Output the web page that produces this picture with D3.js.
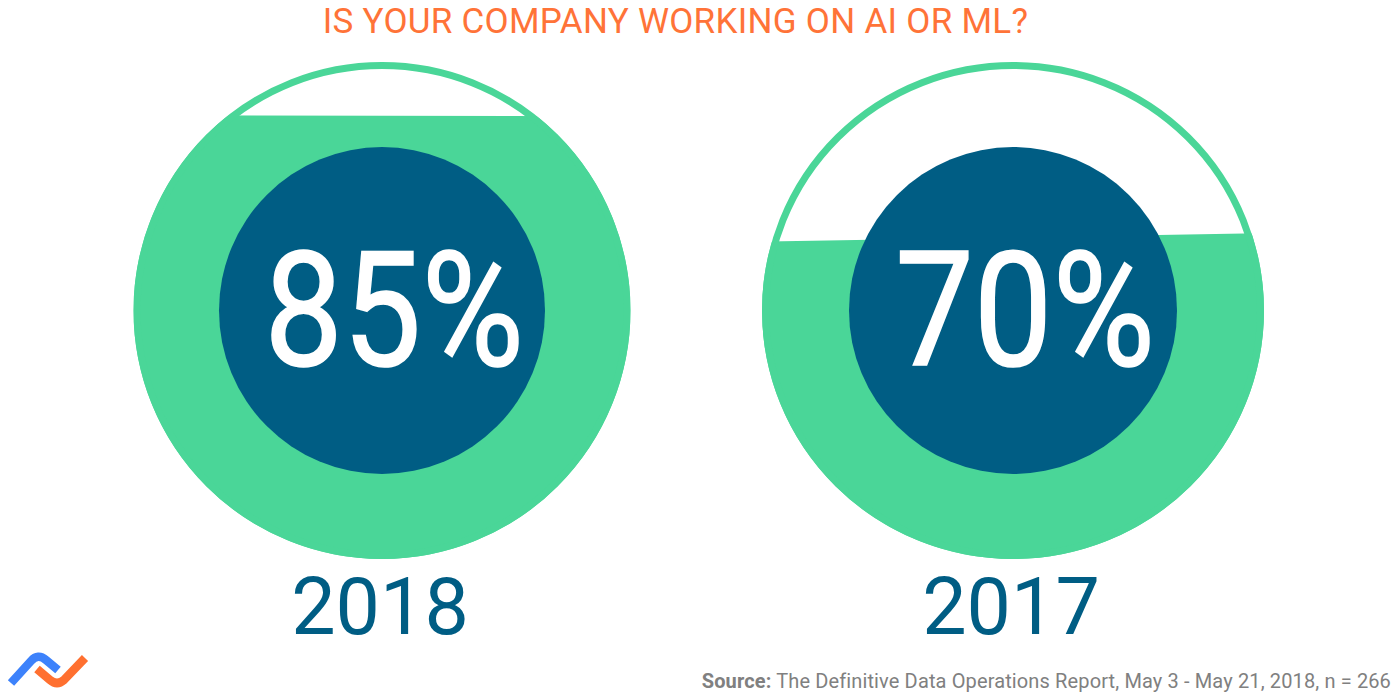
<!DOCTYPE html>
<html>
<head>
<meta charset="utf-8">
<script src="https://cdnjs.cloudflare.com/ajax/libs/d3/7.8.5/d3.min.js"></script>
<style>
  html, body { margin: 0; padding: 0; background: #fff; }
  svg { display: block; }
  text { font-family: Roboto, sans-serif; }
</style>
</head>
<body>
<script>
// chart values
var years = ["2018", "2017"];
var percents = [85, 70];
// liquid surface height at left and right edge of each gauge (0 = bottom, 1 = top)
var levelLeft = [0.893, 0.639];
var levelRight = [0.891, 0.655];

var w = 1400;
var h = 692;
var ry = 248.5;

var svg = d3.select("body")
    .append("svg")
    .attr("width", w)
    .attr("height", h);

var cx = d3.scaleOrdinal().domain(years).range([382, 1013]);
var outerRx = d3.scaleOrdinal().domain(years).range([248.5, 251]);
var innerRx = d3.scaleOrdinal().domain(years).range([163, 164]);
var y = d3.scaleLinear().domain([0, 1]).range([ry, -ry]);

var gauges = svg.selectAll("g.gauge")
    .data(years)
    .enter()
    .append("g")
    .attr("class", "gauge")
    .attr("transform", function (d) { return "translate(" + cx(d) + ",310.5)"; });

gauges.append("clipPath")
    .attr("id", function (d) { return "clip" + d; })
    .append("ellipse")
    .attr("rx", function (d) { return outerRx(d); })
    .attr("ry", ry);

// liquid, from a line at the surface down to the bottom of the circle
gauges.append("path")
    .attr("clip-path", function (d) { return "url(#clip" + d + ")"; })
    .attr("fill", "#4ad698")
    .attr("d", function (d, i) {
        var r = outerRx(d);
        var xEdge = r * 0.94;
        return d3.area()
            .x(function (p) { return p[0]; })
            .y0(ry)
            .y1(function (p) { return y(p[1]); })([
                [-r, levelLeft[i] + (levelLeft[i] - levelRight[i]) * (r - xEdge) / (2 * xEdge)],
                [r, levelRight[i] + (levelRight[i] - levelLeft[i]) * (r - xEdge) / (2 * xEdge)]
            ]);
    });

// ring
gauges.append("ellipse")
    .attr("rx", function (d) { return outerRx(d) - 3.5; })
    .attr("ry", ry - 3.5)
    .attr("fill", "none")
    .attr("stroke", "#4ad698")
    .attr("stroke-width", 7);

gauges.append("ellipse")
    .attr("rx", function (d) { return innerRx(d); })
    .attr("ry", 163.5)
    .attr("fill", "#005d84");

// the big numbers are squeezed horizontally in the original
gauges.append("text")
    .attr("text-anchor", "middle")
    .attr("transform", "translate(12,54.5) scale(0.88,1)")
    .attr("fill", "#fff")
    .attr("stroke", "#fff")
    .attr("stroke-width", 1.6)
    .style("font-size", "159px")
    .text(function (d, i) { return percents[i] + "%"; });

gauges.append("text")
    .attr("text-anchor", "middle")
    .attr("y", 323.5)
    .attr("x", -2)
    .attr("fill", "#005d84")
    .style("font-size", "79px")
    .text(function (d) { return d; });

svg.append("text")
    .attr("x", 675.5)
    .attr("y", 33)
    .attr("text-anchor", "middle")
    .attr("fill", "#ff7338")
    .style("font-size", "35px")
    .style("letter-spacing", "0.28px")
    .text("IS YOUR COMPANY WORKING ON AI OR ML?");

var source = svg.append("text")
    .attr("x", 1391)
    .attr("y", 687.5)
    .attr("text-anchor", "end")
    .attr("fill", "#808080")
    .style("font-size", "20px")
    .style("letter-spacing", "0.13px");
source.append("tspan").style("font-weight", "bold").text("Source:");
source.append("tspan").text(" The Definitive Data Operations Report, May 3 - May 21, 2018, n = 266");

// logo
svg.append("path")
    .attr("d", "M11,683 L31,661 Q38,653 46,660 L58,670")
    .attr("fill", "none")
    .attr("stroke", "#3d82fb")
    .attr("stroke-width", 8.5);

svg.append("path")
    .attr("d", "M37,669 L50,680 Q57,686 64,680 L85,658")
    .attr("fill", "none")
    .attr("stroke", "#ff7030")
    .attr("stroke-width", 8.5);
</script>
</body>
</html>
